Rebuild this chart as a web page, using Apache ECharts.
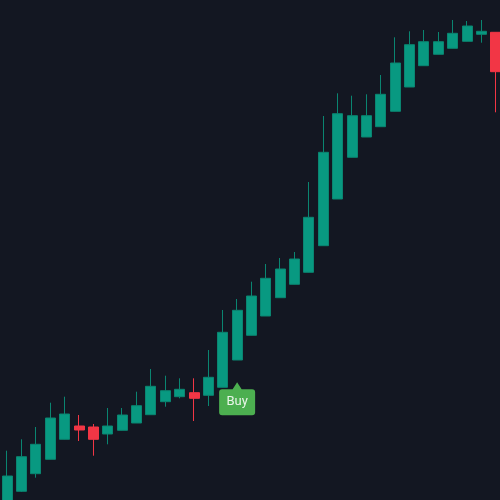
<!DOCTYPE html>
<html>
<head>
<meta charset="utf-8">
<style>
  html, body { margin: 0; padding: 0; background: #131722; }
  #chart { width: 500px; height: 500px; }
</style>
<script src="https://cdn.jsdelivr.net/npm/echarts@6/dist/echarts.min.js"></script>
</head>
<body>
<div id="chart"></div>
<script>
// Bar labels (index of each candle)
const categories = Array.from({length: 35}, (_, i) => 'Bar ' + (i + 1));
// OHLC values
const opens  = [99.0, 101.74, 105.26, 108.14, 112.14, 114.8, 114.6, 113.2, 113.94, 115.4, 117.06, 119.66, 120.66, 121.46, 120.94, 122.54, 128.0, 132.94, 136.8, 140.46, 143.14, 145.54, 150.86, 160.2, 168.54, 172.6, 174.66, 177.74, 182.6, 186.86, 189.14, 190.34, 191.74, 193.14, 193.54];
const closes = [104.8, 108.66, 111.14, 116.4, 117.2, 114.0, 112.14, 114.8, 117.0, 118.86, 122.74, 121.86, 122.14, 120.34, 124.54, 133.54, 137.94, 140.8, 144.34, 146.2, 148.2, 156.54, 169.54, 177.26, 176.86, 176.86, 181.14, 187.4, 191.06, 191.66, 191.66, 193.34, 194.8, 193.74, 185.66];
const lows   = [98.0, 101.6, 104.46, 108.1, 112.1, 111.8, 108.86, 111.14, 113.9, 115.4, 117.0, 118.66, 120.34, 115.8, 118.8, 122.5, 128.0, 132.9, 136.8, 140.4, 143.1, 145.5, 150.8, 160.2, 168.5, 172.6, 174.6, 177.7, 182.6, 186.8, 189.1, 190.3, 191.7, 191.46, 177.54];
const highs  = [109.86, 112.14, 114.6, 119.46, 120.66, 117.0, 115.2, 118.4, 118.4, 121.66, 126.2, 124.86, 124.34, 124.34, 130.0, 138.0, 140.2, 143.66, 147.2, 148.4, 149.6, 163.6, 176.8, 181.34, 180.86, 181.14, 185.0, 192.54, 193.74, 194.0, 193.6, 196.0, 195.8, 196.0, 193.54];
// Trade markers
const markerIndex = [16];
const markerText = ['Buy'];

const ohlc = categories.map((c, i) => [opens[i], closes[i], lows[i], highs[i]]);

const chart = echarts.init(document.getElementById('chart'));
chart.setOption({
  backgroundColor: '#131722',
  animation: false,
  grid: { left: 0, top: 0, width: 503, height: 500, containLabel: false, outerBoundsMode: 'none' },
  xAxis: {
    type: 'category',
    data: categories,
    boundaryGap: true,
    axisLine: { show: false },
    axisTick: { show: false },
    axisLabel: { show: false },
    splitLine: { show: false }
  },
  yAxis: {
    type: 'value',
    min: 100,
    max: 200,
    axisLine: { show: false },
    axisTick: { show: false },
    axisLabel: { show: false },
    splitLine: { show: false }
  },
  series: [{
    type: 'candlestick',
    data: ohlc,
    barWidth: 10.5,
    clip: true,
    itemStyle: {
      color: '#089981',
      color0: '#F23645',
      borderColor: '#0a8571',
      borderColor0: '#F23645',
      borderWidth: 1
    },
    markPoint: {
      silent: true,
      symbol: 'path://M18 0 L22.5 7 L33 7 Q36 7 36 10 L36 30 Q36 33 33 33 L3 33 Q0 33 0 30 L0 10 Q0 7 3 7 L13.5 7 Z',
      symbolSize: [36, 33],
      symbolOffset: [0, 38.7],
      symbolKeepAspect: false,
      itemStyle: { color: '#4CAF50' },
      label: {
        show: true,
        position: 'inside',
        offset: [0, 3],
        color: '#eaf6ea',
        fontSize: 13,
        fontFamily: 'Roboto, sans-serif',
        formatter: p => p.name
      },
      data: markerIndex.map((idx, k) => ({
        name: markerText[k],
        coord: [idx, lows[idx]]
      }))
    }
  }]
});
</script>
</body>
</html>
